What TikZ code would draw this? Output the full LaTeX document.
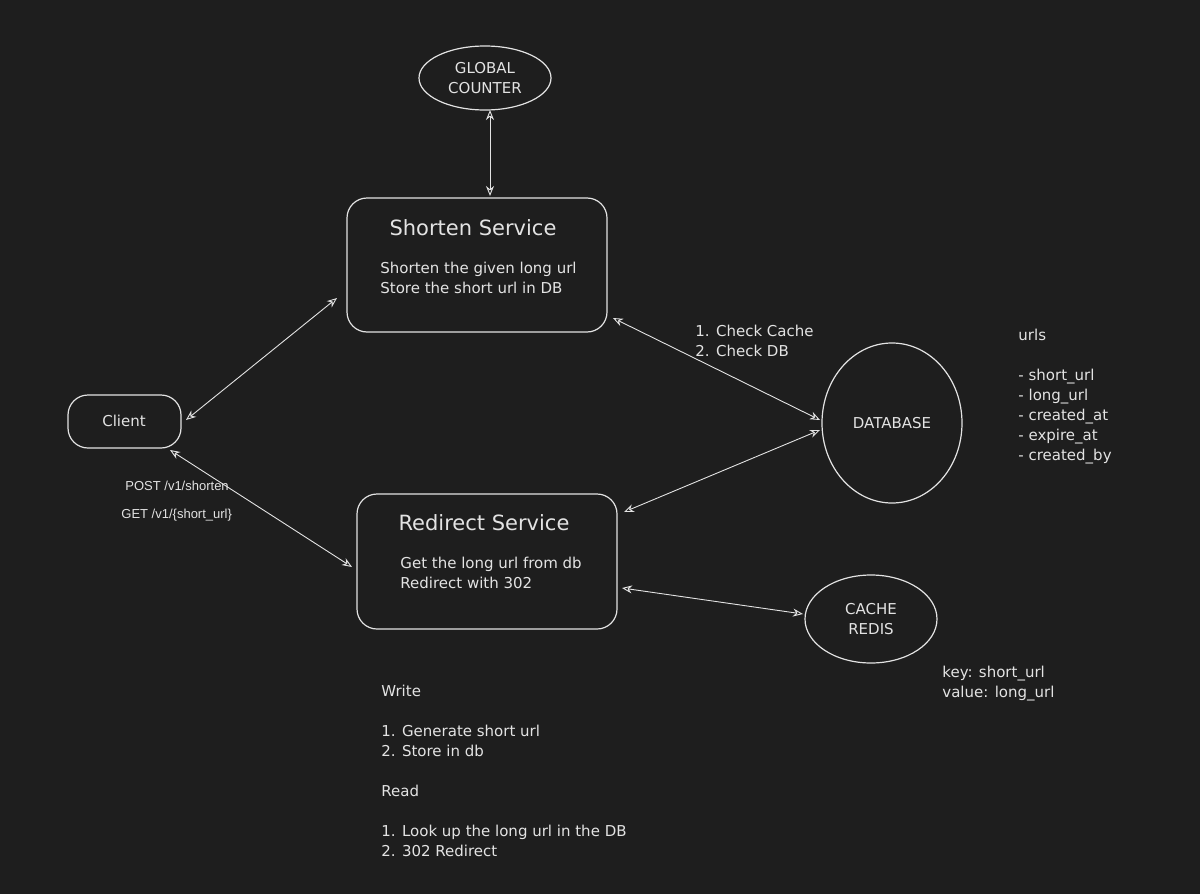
\documentclass[tikz,border=0pt]{standalone}
\usepackage{fontspec}
\setmainfont{DejaVu Sans}
\newfontfamily\labfont{Liberation Sans}
\usetikzlibrary{shapes.geometric,arrows.meta}
\definecolor{bg}{HTML}{1E1E1E}
\definecolor{fg}{HTML}{E3E3E3}
\begin{document}
\begin{tikzpicture}[x=0.5pt,y=-0.5pt,
  box/.style={draw=fg,rounded corners=10pt,line width=0.6pt},
  ell/.style={draw=fg,ellipse,line width=0.6pt,inner sep=0pt},
  txt/.style={text=fg,font=\fontsize{7.5}{10}\selectfont,align=left,inner sep=0pt},
  labtxt/.style={text=fg,font=\labfont\fontsize{6.5}{8}\selectfont,inner sep=0pt},
  ttl/.style={text=fg,font=\fontsize{10.5}{12}\selectfont,inner sep=0pt},
  link/.style={draw=fg,line width=0.45pt,{Stealth[length=5pt,width=4pt,open]}-{Stealth[length=5pt,width=4pt,open]}}]
\fill[bg] (0,0) rectangle (1200,894);
\useasboundingbox (0,0) rectangle (1200,894);
\node[ell,minimum width=66pt,minimum height=32pt] (gc) at (485,78) {};
\node[txt,align=center] at (gc) {GLOBAL\\COUNTER};
\draw[box] (347,198) rectangle (607,332);
\node[ttl] (st) at (473,228) {Shorten Service};
\node[txt,anchor=north west] at (380,262) {Shorten the given long url\\Store the short url in DB};
\draw[box] (68,395) rectangle (181,448);
\node[txt] (cl) at (124,421) {Client};
\draw[box] (357,494) rectangle (617,629);
\node[ttl] (rt) at (484,523) {Redirect Service};
\node[txt,anchor=north west] at (400,557) {Get the long url from db\\Redirect with 302};
\node[ell,minimum width=70pt,minimum height=80pt] (db) at (892,423) {};
\node[txt] at (db) {DATABASE};
\node[ell,minimum width=66pt,minimum height=44pt] (ca) at (871,619) {};
\node[txt,align=center] at (ca) {CACHE\\REDIS};
\node[txt,anchor=north west] (urls) at (1018,329) {urls\\[10pt]- short\_url\\- long\_url\\- created\_at\\- expire\_at\\- created\_by};
\node[txt,anchor=north west] (kv) at (942,666) {key: short\_url\\value: long\_url};
\node[txt,anchor=north west] (wr) at (381,685) {Write\\[10pt]1. Generate short url\\2. Store in db\\[10pt]Read\\[10pt]1. Look up the long url in the DB\\2. 302 Redirect};
\node[txt,anchor=north west] (ck) at (695,325) {1. Check Cache\\2. Check DB};
\node[labtxt,anchor=west] (post) at (125,486) {POST /v1/shorten};
\node[labtxt,anchor=west] (get) at (121,515) {GET /v1/\{short\_url\}};
\coordinate (a1) at (490,110); \coordinate (a2) at (490,196);
\coordinate (b1) at (337,298); \coordinate (b2) at (186,420);
\coordinate (c1) at (170,450); \coordinate (c2) at (352,567);
\coordinate (d1) at (613,318); \coordinate (d2) at (820,420);
\coordinate (e1) at (624,512); \coordinate (e2) at (820,430);
\coordinate (f1) at (622,588); \coordinate (f2) at (803,614);
\draw[link] (a1) -- (a2);
\draw[link] (b1) -- (b2);
\draw[link] (c1) -- (c2);
\draw[link] (d1) -- (d2);
\draw[link] (e1) -- (e2);
\draw[link] (f1) -- (f2);
\end{tikzpicture}
\end{document}
